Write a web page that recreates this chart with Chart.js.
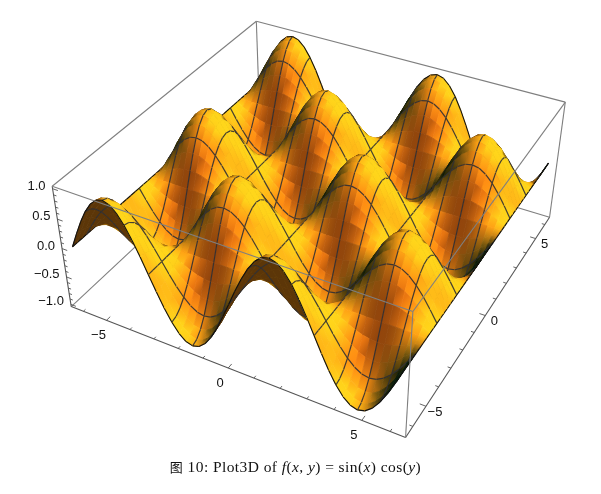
<!DOCTYPE html>
<html>
<head>
<meta charset="utf-8">
<script src="https://cdn.jsdelivr.net/npm/chart.js@4"></script>
<style>
body { margin: 0; background: #fff; }
#wrap { position: relative; width: 601px; height: 494px; }
#caption { position: absolute; left: 0; width: 591px; top: 457px; text-align: center; font: 15.5px "Liberation Serif", serif; letter-spacing: 0.42px; color: #111; white-space: nowrap; }
#caption .cjk { font-family: "Noto Sans CJK SC"; font-size: 13px; }
#caption i { font-style: italic; }
</style>
</head>
<body>
<div id="wrap">
<canvas id="plot3d" width="601" height="494"></canvas>
<div id="caption"><span class="cjk">图</span> 10: Plot3D of <i>f</i>(<i>x</i>, <i>y</i>) = sin(<i>x</i>) cos(<i>y</i>)</div>
</div>
<script>
// surface heights, x runs by row, y by column, step pi/12
const r0 = [0,0,0,0,0,0,0,0,0,0,0,0,0,0,0,0,0,0,0,0,0,0,0,0,0,0,0,0,0,0,0,0,0,0,0,0,0,0,0,0,0,0,0,0,0,0,0,0,0];
const p26 = [.259,.25,.224,.183,.129,.067,0,-.067,-.129,-.183,-.224,-.25,-.259,-.25,-.224,-.183,-.129,-.067,0,.067,.129,.183,.224,.25,.259,.25,.224,.183,.129,.067,0,-.067,-.129,-.183,-.224,-.25,-.259,-.25,-.224,-.183,-.129,-.067,0,.067,.129,.183,.224,.25,.259];
const p50 = [.5,.483,.433,.354,.25,.129,0,-.129,-.25,-.354,-.433,-.483,-.5,-.483,-.433,-.354,-.25,-.129,0,.129,.25,.354,.433,.483,.5,.483,.433,.354,.25,.129,0,-.129,-.25,-.354,-.433,-.483,-.5,-.483,-.433,-.354,-.25,-.129,0,.129,.25,.354,.433,.483,.5];
const p71 = [.707,.683,.612,.5,.354,.183,0,-.183,-.354,-.5,-.612,-.683,-.707,-.683,-.612,-.5,-.354,-.183,0,.183,.354,.5,.612,.683,.707,.683,.612,.5,.354,.183,0,-.183,-.354,-.5,-.612,-.683,-.707,-.683,-.612,-.5,-.354,-.183,0,.183,.354,.5,.612,.683,.707];
const p87 = [.866,.837,.75,.612,.433,.224,0,-.224,-.433,-.612,-.75,-.837,-.866,-.837,-.75,-.612,-.433,-.224,0,.224,.433,.612,.75,.837,.866,.837,.75,.612,.433,.224,0,-.224,-.433,-.612,-.75,-.837,-.866,-.837,-.75,-.612,-.433,-.224,0,.224,.433,.612,.75,.837,.866];
const p97 = [.966,.933,.837,.683,.483,.25,0,-.25,-.483,-.683,-.837,-.933,-.966,-.933,-.837,-.683,-.483,-.25,0,.25,.483,.683,.837,.933,.966,.933,.837,.683,.483,.25,0,-.25,-.483,-.683,-.837,-.933,-.966,-.933,-.837,-.683,-.483,-.25,0,.25,.483,.683,.837,.933,.966];
const p100 = [1,.966,.866,.707,.5,.259,0,-.259,-.5,-.707,-.866,-.966,-1,-.966,-.866,-.707,-.5,-.259,0,.259,.5,.707,.866,.966,1,.966,.866,.707,.5,.259,0,-.259,-.5,-.707,-.866,-.966,-1,-.966,-.866,-.707,-.5,-.259,0,.259,.5,.707,.866,.966,1];
const n26 = [-.259,-.25,-.224,-.183,-.129,-.067,0,.067,.129,.183,.224,.25,.259,.25,.224,.183,.129,.067,0,-.067,-.129,-.183,-.224,-.25,-.259,-.25,-.224,-.183,-.129,-.067,0,.067,.129,.183,.224,.25,.259,.25,.224,.183,.129,.067,0,-.067,-.129,-.183,-.224,-.25,-.259];
const n50 = [-.5,-.483,-.433,-.354,-.25,-.129,0,.129,.25,.354,.433,.483,.5,.483,.433,.354,.25,.129,0,-.129,-.25,-.354,-.433,-.483,-.5,-.483,-.433,-.354,-.25,-.129,0,.129,.25,.354,.433,.483,.5,.483,.433,.354,.25,.129,0,-.129,-.25,-.354,-.433,-.483,-.5];
const n71 = [-.707,-.683,-.612,-.5,-.354,-.183,0,.183,.354,.5,.612,.683,.707,.683,.612,.5,.354,.183,0,-.183,-.354,-.5,-.612,-.683,-.707,-.683,-.612,-.5,-.354,-.183,0,.183,.354,.5,.612,.683,.707,.683,.612,.5,.354,.183,0,-.183,-.354,-.5,-.612,-.683,-.707];
const n87 = [-.866,-.837,-.75,-.612,-.433,-.224,0,.224,.433,.612,.75,.837,.866,.837,.75,.612,.433,.224,0,-.224,-.433,-.612,-.75,-.837,-.866,-.837,-.75,-.612,-.433,-.224,0,.224,.433,.612,.75,.837,.866,.837,.75,.612,.433,.224,0,-.224,-.433,-.612,-.75,-.837,-.866];
const n97 = [-.966,-.933,-.837,-.683,-.483,-.25,0,.25,.483,.683,.837,.933,.966,.933,.837,.683,.483,.25,0,-.25,-.483,-.683,-.837,-.933,-.966,-.933,-.837,-.683,-.483,-.25,0,.25,.483,.683,.837,.933,.966,.933,.837,.683,.483,.25,0,-.25,-.483,-.683,-.837,-.933,-.966];
const n100 = [-1,-.966,-.866,-.707,-.5,-.259,0,.259,.5,.707,.866,.966,1,.966,.866,.707,.5,.259,0,-.259,-.5,-.707,-.866,-.966,-1,-.966,-.866,-.707,-.5,-.259,0,.259,.5,.707,.866,.966,1,.966,.866,.707,.5,.259,0,-.259,-.5,-.707,-.866,-.966,-1];
const zValues = [r0,p26,p50,p71,p87,p97,p100,p97,p87,p71,p50,p26,r0,n26,n50,n71,n87,n97,n100,n97,n87,n71,n50,n26,r0,p26,p50,p71,p87,p97,p100,p97,p87,p71,p50,p26,r0,n26,n50,n71,n87,n97,n100,n97,n87,n71,n50,n26,r0];

const gridStep = Math.PI / 12;
const rangeXY = 6.535, rangeZ = 1.04;

const xyMajor = [-5, 0, 5];
const xyMinor = [-6, -4, -3, -2, -1, 1, 2, 3, 4, 6];
const xyLabels = ["\u22125", "0", "5"];
const zMajor = [-1, -0.5, 0, 0.5, 1];
const zMinor = [-0.9, -0.8, -0.7, -0.6, -0.4, -0.3, -0.2, -0.1, 0.1, 0.2, 0.3, 0.4, 0.6, 0.7, 0.8, 0.9];
const zLabels = ["\u22121.0", "\u22120.5", "0.0", "0.5", "1.0"];

// camera, box is 1 x 1 x 0.4
const cam = [1.3, -2.4, 2];
const norm = v => { const l = Math.hypot(v[0], v[1], v[2]); return v.map(c => c / l); };
const dot = (a, b) => a[0]*b[0] + a[1]*b[1] + a[2]*b[2];
const camF = norm(cam.map(c => -c));
const camR = norm([camF[1], -camF[0], 0]);
const camU = [camR[1]*camF[2] - camR[2]*camF[1], camR[2]*camF[0] - camR[0]*camF[2], camR[0]*camF[1] - camR[1]*camF[0]];

function toBox(x, y, z) {
    return [x / rangeXY * 0.5, y / rangeXY * 0.5, z / rangeZ * 0.2];
}
function project(x, y, z) {
    const b = toBox(x, y, z);
    const p = [b[0] - cam[0], b[1] - cam[1], b[2] - cam[2]];
    const d = dot(p, camF);
    return { x: dot(p, camR) / d, y: dot(p, camU) / d };
}

const gridX = i => -2 * Math.PI + i * gridStep;
const cells = zValues.length - 1;

// colour response fitted by eye, normals in view space
const redLight = [1.5, 0.6, 1], redBase = 0.2;
const greenLight = [0.55, 0.85, 0.93], greenBase = -0.5;
const underside = [0.36, 0.21, 0.03];
const boxScale = (0.2 / rangeZ) / (0.5 / rangeXY);
const clamp01 = v => Math.max(0, Math.min(1, v));

function vertexColor(i, j) {
    const a0 = Math.max(0, i - 1), a1 = Math.min(cells, i + 1);
    const b0 = Math.max(0, j - 1), b1 = Math.min(cells, j + 1);
    const dzdx = (zValues[a1][j] - zValues[a0][j]) / ((a1 - a0) * gridStep);
    const dzdy = (zValues[i][b1] - zValues[i][b0]) / ((b1 - b0) * gridStep);
    // seen from below?
    const b = toBox(gridX(i), gridX(j), zValues[i][j]);
    const toCam = [cam[0] - b[0], cam[1] - b[1], cam[2] - b[2]];
    if (dot([-dzdx * boxScale, -dzdy * boxScale, 1], toCam) < 0) return underside;
    const nw = norm([-dzdx, -dzdy, 1]);
    const nv = [dot(nw, camR), dot(nw, camU), -dot(nw, camF)];
    // faces turned down towards the viewer go darker
    const low = Math.max(0, 0.45 - nv[1]);
    const redRaw = redBase + dot(nv, redLight);
    const red = clamp01(redRaw - 0.75 * low);
    const side = clamp01(nv[0] * 3 + 0.5);
    let g = greenBase + dot(nv, greenLight) - 1.2 * low * side;
    g *= Math.min(1, red / Math.max(0.01, Math.min(1, redRaw)));
    g = Math.min(0.84, Math.max(0.1, g));
    return [red, g, 0.02 + 0.1 * g];
}
const vertexColors = zValues.map((row, i) => row.map((z, j) => vertexColor(i, j)));

const css = c => "rgb(" + c.map(v => Math.round(v * 255)).join(",") + ")";
const mixColor = (a, b) => [(a[0]+b[0])/2, (a[1]+b[1])/2, (a[2]+b[2])/2];
const colorGap = (a, b) => Math.abs(a[0]-b[0]) + Math.abs(a[1]-b[1]) + Math.abs(a[2]-b[2]);
const mid = (p, q) => ({ x: (p.x + q.x) / 2, y: (p.y + q.y) / 2 });

// each patch gets a linear gradient along its strongest colour change
function patchPaint(i, j) {
    let cached = null;
    return ctx => {
        if (cached) return cached;
        const chart = ctx.chart, sx = chart.scales.x, sy = chart.scales.y;
        if (!sx || !sy) return css(vertexColors[i][j]);
        const c00 = vertexColors[i][j], c10 = vertexColors[i+1][j], c01 = vertexColors[i][j+1], c11 = vertexColors[i+1][j+1];
        const p00 = vertex(i, j), p10 = vertex(i+1, j), p01 = vertex(i, j+1), p11 = vertex(i+1, j+1);
        const iA = mixColor(c00, c01), iB = mixColor(c10, c11), jA = mixColor(c00, c10), jB = mixColor(c01, c11);
        const useI = colorGap(iA, iB) >= colorGap(jA, jB);
        const from = useI ? mid(p00, p01) : mid(p00, p10), to = useI ? mid(p10, p11) : mid(p01, p11);
        const x0 = sx.getPixelForValue(from.x), y0 = sy.getPixelForValue(from.y);
        const x1 = sx.getPixelForValue(to.x), y1 = sy.getPixelForValue(to.y);
        // scales are not laid out on the first pass
        if (![x0, y0, x1, y1].every(Number.isFinite)) return css(c00);
        const grad = chart.ctx.createLinearGradient(x0, y0, x1, y1);
        grad.addColorStop(0, css(useI ? iA : jA));
        grad.addColorStop(1, css(useI ? iB : jB));
        cached = grad;
        return grad;
    };
}

const datasets = [];
function addLine(points, color, width) {
    datasets.push({ data: points, showLine: true, borderColor: color, borderWidth: width, pointRadius: 0, fill: false });
}

const boxColor = "#7f7f7f", axisColor = "#555555";
const R = rangeXY, H = rangeZ;

// back edges first
addLine([project(-R, R, -H), project(-R, R, H)], boxColor, 1.1);
addLine([project(-R, -R, -H), project(-R, R, -H)], boxColor, 1.1);
addLine([project(-R, R, -H), project(R, R, -H)], boxColor, 1.1);
addLine([project(R, R, -H), project(R, R, H)], boxColor, 1.1);
addLine([project(-R, -R, H), project(-R, R, H)], boxColor, 1.1);
addLine([project(-R, R, H), project(R, R, H)], boxColor, 1.1);
addLine([project(-R, -R, -H), project(-R, -R, H)], axisColor, 1.1);
addLine([project(-R, -R, -H), project(R, -R, -H)], axisColor, 1.1);
addLine([project(R, -R, -H), project(R, R, -H)], axisColor, 1.1);

// ticks
const tickLen = { major: 0.22, minor: 0.12 };
function addTicks(values, len) {
    values.forEach(v => {
        addLine([project(v, -R, -H), project(v, -R + len, -H)], axisColor, 0.9);
        addLine([project(R, v, -H), project(R - len, v, -H)], axisColor, 0.9);
    });
}
addTicks(xyMajor, tickLen.major);
addTicks(xyMinor, tickLen.minor);
zMajor.forEach(v => addLine([project(-R, -R, v), project(-R + tickLen.major, -R, v)], axisColor, 0.9));
zMinor.forEach(v => addLine([project(-R, -R, v), project(-R + tickLen.minor, -R, v)], axisColor, 0.9));

// surface, back to front
const meshColor = "rgba(48,48,52,0.9)", edgeColor = "#111111";
const isMeshX = i => i % 3 === 0;       // every pi/4
const isMeshY = j => j % 6 === 3;       // every pi/2, off the peaks
function vertex(i, j) { return project(gridX(i), gridX(j), zValues[i][j]); }
for (let i = 0; i < cells; i++) {
    for (let j = cells - 1; j >= 0; j--) {
        const paint = patchPaint(i, j);
        datasets.push({
            data: [vertex(i, j), vertex(i+1, j), vertex(i+1, j+1), vertex(i, j+1), vertex(i, j)],
            showLine: true, fill: "shape", backgroundColor: paint, borderColor: paint, borderWidth: 0.8, pointRadius: 0,
        });
        if (i === 0) addLine([vertex(i, j), vertex(i, j+1)], edgeColor, 1.1);
        else if (isMeshX(i)) addLine([vertex(i, j), vertex(i, j+1)], meshColor, 1.2);
        if (j === cells - 1) addLine([vertex(i, j+1), vertex(i+1, j+1)], edgeColor, 1.1);
        else if (isMeshY(j + 1)) addLine([vertex(i, j+1), vertex(i+1, j+1)], meshColor, 1.2);
        if (i === cells - 1) addLine([vertex(i+1, j), vertex(i+1, j+1)], edgeColor, 1.1);
        if (j === 0) addLine([vertex(i, j), vertex(i+1, j)], edgeColor, 1.1);
    }
}

// front edges over the surface
addLine([project(R, -R, -H), project(R, -R, H)], boxColor, 1.1);
addLine([project(-R, -R, H), project(R, -R, H)], boxColor, 1.1);
addLine([project(R, -R, H), project(R, R, H)], boxColor, 1.1);

// the library paints the first dataset last
datasets.reverse();

const axisLabels = {
    id: "axisLabels",
    afterDraw(chart) {
        const c = chart.ctx, sx = chart.scales.x, sy = chart.scales.y;
        const put = (p, dx, dy, text, align) => {
            c.textAlign = align;
            c.fillText(text, sx.getPixelForValue(p.x) + dx, sy.getPixelForValue(p.y) + dy);
        };
        c.save();
        c.font = "13px 'Liberation Sans'";
        c.fillStyle = "#111";
        c.textBaseline = "middle";
        xyMajor.forEach((v, k) => {
            put(project(v, -R, -H), -8, 15, xyLabels[k], "center");
            put(project(R, v, -H), 9, 6, xyLabels[k], "center");
        });
        zMajor.forEach((v, k) => put(project(-R, -R, v), -7, -2.5, zLabels[k], "right"));
        c.restore();
    },
};

new Chart(document.getElementById("plot3d"), {
    type: "scatter",
    data: { datasets: datasets },
    plugins: [axisLabels],
    options: {
        responsive: false,
        animation: false,
        parsing: false,
        events: [],
        plugins: { legend: { display: false }, tooltip: { enabled: false } },
        scales: {
            x: { display: false, min: -321.5 / 1233, max: 279.5 / 1233 },
            y: { display: false, min: -291 / 1233, max: 203 / 1233 },
        },
    },
});
</script>
</body>
</html>
